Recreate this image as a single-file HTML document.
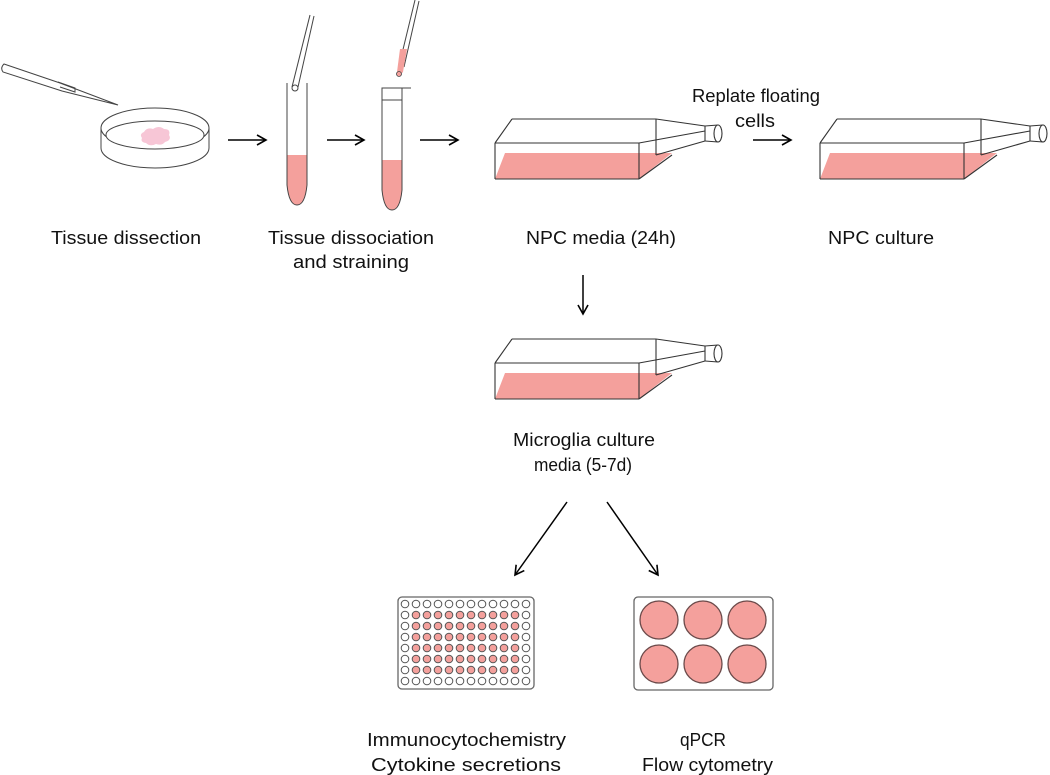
<!DOCTYPE html>
<html><head><meta charset="utf-8"><style>
html,body{margin:0;padding:0;background:#fff;}
svg{display:block;}
text{font-family:"Liberation Sans",sans-serif;font-size:18px;fill:#111;}
</style></head><body>
<svg width="1050" height="775" viewBox="0 0 1050 775" xmlns="http://www.w3.org/2000/svg">
<defs>
<marker id="ah" markerWidth="12" markerHeight="12" refX="10" refY="6" orient="auto" markerUnits="userSpaceOnUse">
<path d="M1,1 L10,6 L1,11" fill="none" stroke="#000" stroke-width="1.6"/>
</marker>
<g id="flask" stroke="#333" stroke-width="1.1" fill="none">
<polygon points="0,60 10,34 177,34 144,60" fill="#f4a09c" stroke="none"/>
<line x1="0" y1="60" x2="144" y2="60"/>
<line x1="0" y1="24" x2="144" y2="24"/>
<line x1="0" y1="24" x2="0" y2="60"/>
<line x1="144" y1="24" x2="144" y2="60"/>
<line x1="17" y1="0" x2="161" y2="0"/>
<line x1="0" y1="24" x2="17" y2="0"/>
<line x1="161" y1="0" x2="161" y2="36"/>
<line x1="144" y1="60" x2="177" y2="36"/>
<line x1="161" y1="0" x2="210" y2="7"/>
<line x1="144" y1="24" x2="210" y2="12"/>
<line x1="161" y1="36" x2="210" y2="22"/>
<line x1="210" y1="7" x2="223" y2="6"/>
<line x1="210" y1="22" x2="223" y2="23"/>
<line x1="210" y1="7" x2="210" y2="22"/>
<ellipse cx="223" cy="14.5" rx="4" ry="8.5" fill="#fff"/>
</g>
</defs>

<!-- scalpel -->
<g stroke="#444" stroke-width="1" fill="none">
<path d="M4,64 L60,83 L118,105 L62,91 L3,72 Q0,68 4,64 Z" fill="#fff"/>
<path d="M58,82 L75,88 L75,92 L60,87"/>
</g>
<!-- petri dish -->
<g stroke="#444" stroke-width="1" fill="#fff">
<path d="M101,128 L101,148 A54,20 0 0 0 209,148 L209,128"/>
<ellipse cx="155" cy="128" rx="54" ry="20"/>
<ellipse cx="155" cy="135" rx="49" ry="14"/>
</g>
<path d="M144,132 q3,-5 9,-3 q6,-4 11,0 q7,0 5,6 q3,5 -4,7 q-3,4 -9,2 q-6,3 -10,-1 q-6,-1 -4,-5 q-3,-4 2,-6z" fill="#f7c6d6"/>

<!-- tube 1 -->
<path d="M287,155 L307,155 L307,185 Q305,205 297,205 Q289,205 287,185 Z" fill="#f4a09c"/>
<path d="M287,83 L287,185 Q289,205 297,205 Q305,205 307,185 L307,83" fill="none" stroke="#444" stroke-width="1"/>
<g stroke="#444" stroke-width="1" fill="none">
<line x1="310" y1="15" x2="292" y2="87"/><line x1="314" y1="16" x2="298" y2="87"/>
<circle cx="295" cy="88" r="3" fill="#fff"/>
</g>
<!-- tube 2 -->
<path d="M382,160 L402,160 L402,190 Q400,210 392,210 Q384,210 382,190 Z" fill="#f4a09c"/>
<g stroke="#444" stroke-width="1" fill="none">
<path d="M382,100 L382,190 Q384,210 392,210 Q400,210 402,190 L402,100"/>
<rect x="382" y="88" width="20" height="12" fill="#fff"/>
<line x1="402" y1="88" x2="411" y2="88"/>
<line x1="415" y1="0" x2="399" y2="66"/><line x1="419" y1="1" x2="404" y2="67"/>
</g>
<path d="M400,49 L407,49 L403,72 Q400,76 397,72 Z" fill="#f4a09c"/>
<circle cx="399" cy="74" r="2.5" fill="#f4a09c" stroke="#444" stroke-width="0.8"/>

<!-- flasks -->
<use href="#flask" x="495" y="119"/>
<use href="#flask" x="820" y="119"/>
<use href="#flask" x="495" y="339"/>

<!-- arrows -->
<g stroke="#000" stroke-width="1.5" marker-end="url(#ah)">
<line x1="228" y1="140" x2="266" y2="140"/>
<line x1="327" y1="140" x2="364" y2="140"/>
<line x1="420" y1="140" x2="458" y2="140"/>
<line x1="753" y1="140" x2="791" y2="140"/>
<line x1="583" y1="275" x2="583" y2="314"/>
<line x1="567" y1="502" x2="515" y2="575"/>
<line x1="607" y1="502" x2="658" y2="575"/>
</g>

<!-- 96 well -->
<rect x="398" y="597" width="136" height="92" rx="4" fill="#fff" stroke="#666" stroke-width="1.3"/>
<g stroke="#555" stroke-width="1">
<g id="row0"></g>
</g>
<g stroke="#555" stroke-width="1" fill="#fff">
<script>0</script>
</g>
<g id="wells" stroke="#555" stroke-width="1"></g>

<!-- 6 well -->
<rect x="634" y="597" width="139" height="93" rx="4" fill="#fff" stroke="#666" stroke-width="1.3"/>
<g fill="#f4a09c" stroke="#6b4a4a" stroke-width="1.3">
<circle cx="659" cy="620" r="19"/><circle cx="703" cy="620" r="19"/><circle cx="747" cy="620" r="19"/>
<circle cx="659" cy="664" r="19"/><circle cx="703" cy="664" r="19"/><circle cx="747" cy="664" r="19"/>
</g>

<!-- labels -->
<text x="51" y="244" textLength="150" lengthAdjust="spacingAndGlyphs">Tissue dissection</text>
<text x="268" y="244" textLength="166" lengthAdjust="spacingAndGlyphs">Tissue dissociation</text>
<text x="293" y="268" textLength="116" lengthAdjust="spacingAndGlyphs">and straining</text>
<text x="526" y="244" textLength="150" lengthAdjust="spacingAndGlyphs">NPC media (24h)</text>
<text x="828" y="244" textLength="106" lengthAdjust="spacingAndGlyphs">NPC culture</text>
<text x="692" y="102" textLength="128" lengthAdjust="spacingAndGlyphs">Replate floating</text>
<text x="735" y="127" textLength="40" lengthAdjust="spacingAndGlyphs">cells</text>
<text x="513" y="446" textLength="142" lengthAdjust="spacingAndGlyphs">Microglia  culture</text>
<text x="534" y="471" textLength="98" lengthAdjust="spacingAndGlyphs">media (5-7d)</text>
<text x="367" y="746" textLength="199" lengthAdjust="spacingAndGlyphs">Immunocytochemistry</text>
<text x="371" y="771" textLength="190" lengthAdjust="spacingAndGlyphs">Cytokine secretions</text>
<text x="680" y="746" textLength="46" lengthAdjust="spacingAndGlyphs">qPCR</text>
<text x="642" y="771" textLength="131" lengthAdjust="spacingAndGlyphs">Flow cytometry</text>

<g stroke="#555" stroke-width="1">
<circle cx="405" cy="604" r="3.8" fill="#fff"/><circle cx="416" cy="604" r="3.8" fill="#fff"/><circle cx="427" cy="604" r="3.8" fill="#fff"/><circle cx="438" cy="604" r="3.8" fill="#fff"/><circle cx="449" cy="604" r="3.8" fill="#fff"/><circle cx="460" cy="604" r="3.8" fill="#fff"/><circle cx="471" cy="604" r="3.8" fill="#fff"/><circle cx="482" cy="604" r="3.8" fill="#fff"/><circle cx="493" cy="604" r="3.8" fill="#fff"/><circle cx="504" cy="604" r="3.8" fill="#fff"/><circle cx="515" cy="604" r="3.8" fill="#fff"/><circle cx="526" cy="604" r="3.8" fill="#fff"/>
<circle cx="405" cy="615" r="3.8" fill="#fff"/><circle cx="416" cy="615" r="3.8" fill="#f4a09c"/><circle cx="427" cy="615" r="3.8" fill="#f4a09c"/><circle cx="438" cy="615" r="3.8" fill="#f4a09c"/><circle cx="449" cy="615" r="3.8" fill="#f4a09c"/><circle cx="460" cy="615" r="3.8" fill="#f4a09c"/><circle cx="471" cy="615" r="3.8" fill="#f4a09c"/><circle cx="482" cy="615" r="3.8" fill="#f4a09c"/><circle cx="493" cy="615" r="3.8" fill="#f4a09c"/><circle cx="504" cy="615" r="3.8" fill="#f4a09c"/><circle cx="515" cy="615" r="3.8" fill="#f4a09c"/><circle cx="526" cy="615" r="3.8" fill="#fff"/>
<circle cx="405" cy="626" r="3.8" fill="#fff"/><circle cx="416" cy="626" r="3.8" fill="#f4a09c"/><circle cx="427" cy="626" r="3.8" fill="#f4a09c"/><circle cx="438" cy="626" r="3.8" fill="#f4a09c"/><circle cx="449" cy="626" r="3.8" fill="#f4a09c"/><circle cx="460" cy="626" r="3.8" fill="#f4a09c"/><circle cx="471" cy="626" r="3.8" fill="#f4a09c"/><circle cx="482" cy="626" r="3.8" fill="#f4a09c"/><circle cx="493" cy="626" r="3.8" fill="#f4a09c"/><circle cx="504" cy="626" r="3.8" fill="#f4a09c"/><circle cx="515" cy="626" r="3.8" fill="#f4a09c"/><circle cx="526" cy="626" r="3.8" fill="#fff"/>
<circle cx="405" cy="637" r="3.8" fill="#fff"/><circle cx="416" cy="637" r="3.8" fill="#f4a09c"/><circle cx="427" cy="637" r="3.8" fill="#f4a09c"/><circle cx="438" cy="637" r="3.8" fill="#f4a09c"/><circle cx="449" cy="637" r="3.8" fill="#f4a09c"/><circle cx="460" cy="637" r="3.8" fill="#f4a09c"/><circle cx="471" cy="637" r="3.8" fill="#f4a09c"/><circle cx="482" cy="637" r="3.8" fill="#f4a09c"/><circle cx="493" cy="637" r="3.8" fill="#f4a09c"/><circle cx="504" cy="637" r="3.8" fill="#f4a09c"/><circle cx="515" cy="637" r="3.8" fill="#f4a09c"/><circle cx="526" cy="637" r="3.8" fill="#fff"/>
<circle cx="405" cy="648" r="3.8" fill="#fff"/><circle cx="416" cy="648" r="3.8" fill="#f4a09c"/><circle cx="427" cy="648" r="3.8" fill="#f4a09c"/><circle cx="438" cy="648" r="3.8" fill="#f4a09c"/><circle cx="449" cy="648" r="3.8" fill="#f4a09c"/><circle cx="460" cy="648" r="3.8" fill="#f4a09c"/><circle cx="471" cy="648" r="3.8" fill="#f4a09c"/><circle cx="482" cy="648" r="3.8" fill="#f4a09c"/><circle cx="493" cy="648" r="3.8" fill="#f4a09c"/><circle cx="504" cy="648" r="3.8" fill="#f4a09c"/><circle cx="515" cy="648" r="3.8" fill="#f4a09c"/><circle cx="526" cy="648" r="3.8" fill="#fff"/>
<circle cx="405" cy="659" r="3.8" fill="#fff"/><circle cx="416" cy="659" r="3.8" fill="#f4a09c"/><circle cx="427" cy="659" r="3.8" fill="#f4a09c"/><circle cx="438" cy="659" r="3.8" fill="#f4a09c"/><circle cx="449" cy="659" r="3.8" fill="#f4a09c"/><circle cx="460" cy="659" r="3.8" fill="#f4a09c"/><circle cx="471" cy="659" r="3.8" fill="#f4a09c"/><circle cx="482" cy="659" r="3.8" fill="#f4a09c"/><circle cx="493" cy="659" r="3.8" fill="#f4a09c"/><circle cx="504" cy="659" r="3.8" fill="#f4a09c"/><circle cx="515" cy="659" r="3.8" fill="#f4a09c"/><circle cx="526" cy="659" r="3.8" fill="#fff"/>
<circle cx="405" cy="670" r="3.8" fill="#fff"/><circle cx="416" cy="670" r="3.8" fill="#f4a09c"/><circle cx="427" cy="670" r="3.8" fill="#f4a09c"/><circle cx="438" cy="670" r="3.8" fill="#f4a09c"/><circle cx="449" cy="670" r="3.8" fill="#f4a09c"/><circle cx="460" cy="670" r="3.8" fill="#f4a09c"/><circle cx="471" cy="670" r="3.8" fill="#f4a09c"/><circle cx="482" cy="670" r="3.8" fill="#f4a09c"/><circle cx="493" cy="670" r="3.8" fill="#f4a09c"/><circle cx="504" cy="670" r="3.8" fill="#f4a09c"/><circle cx="515" cy="670" r="3.8" fill="#f4a09c"/><circle cx="526" cy="670" r="3.8" fill="#fff"/>
<circle cx="405" cy="681" r="3.8" fill="#fff"/><circle cx="416" cy="681" r="3.8" fill="#fff"/><circle cx="427" cy="681" r="3.8" fill="#fff"/><circle cx="438" cy="681" r="3.8" fill="#fff"/><circle cx="449" cy="681" r="3.8" fill="#fff"/><circle cx="460" cy="681" r="3.8" fill="#fff"/><circle cx="471" cy="681" r="3.8" fill="#fff"/><circle cx="482" cy="681" r="3.8" fill="#fff"/><circle cx="493" cy="681" r="3.8" fill="#fff"/><circle cx="504" cy="681" r="3.8" fill="#fff"/><circle cx="515" cy="681" r="3.8" fill="#fff"/><circle cx="526" cy="681" r="3.8" fill="#fff"/>
</g>
</svg>
</body></html>
